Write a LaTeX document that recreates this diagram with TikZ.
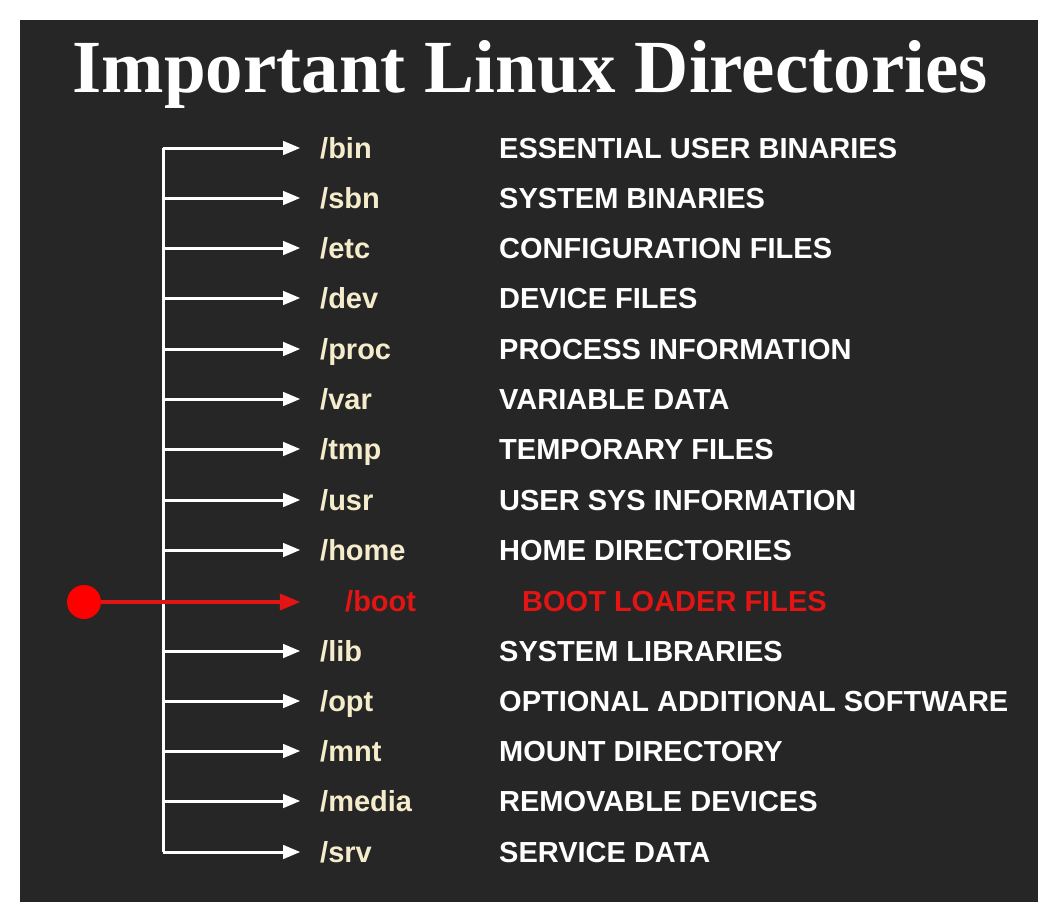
\documentclass[tikz,border=0pt]{standalone}
\usepackage{fontspec}
\setmainfont{Liberation Serif}
\newfontfamily\arialbold[BoldFont={* Bold}]{Liberation Sans}
\usetikzlibrary{arrows}
\definecolor{charcoal}{RGB}{38, 38, 38}
\definecolor{cream}{RGB}{245, 236, 204}
\definecolor{bootred}{RGB}{226, 20, 20}
\definecolor{dotred}{RGB}{255, 0, 0}

\tikzset{
    dirname/.style  = {anchor=west, inner xsep=20pt, inner ysep=0pt, text height=20.8pt, text depth=0pt,
                       text=cream, font=\arialbold\bfseries\fontsize{29}{29}\selectfont},
    dirinfo/.style  = {anchor=west, inner sep=0pt, text height=20.8pt, text depth=0pt,
                       text=white, font=\arialbold\bfseries\fontsize{29}{29}\selectfont},
    branch/.style   = {white, line width=3pt, -triangle 45},
}

\begin{document}
\begin{tikzpicture}[x=1pt, y=-1pt]
            \useasboundingbox                                            (0, 0) rectangle (1058, 921);
            \fill[white]                                                 (0, 0) rectangle (1058, 921);
            \fill[charcoal]                                              (20, 20) rectangle (1038, 902);
            \node[text=white, font=\bfseries\fontsize{75}{75}\selectfont, anchor=base] (title) at (530, 92) {Important Linux Directories};

            \node[dirname] (bin)   at (300, 148) {/bin};    \node[dirinfo] at (499, 148) {ESSENTIAL USER BINARIES};
            \node[dirname] (sbn)   at (300, 198) {/sbn};    \node[dirinfo] at (499, 198) {SYSTEM BINARIES};
            \node[dirname] (etc)   at (300, 248) {/etc};    \node[dirinfo] at (499, 248) {CONFIGURATION FILES};
            \node[dirname] (dev)   at (300, 298) {/dev};    \node[dirinfo] at (499, 298) {DEVICE FILES};
            \node[dirname] (proc)  at (300, 349) {/proc};   \node[dirinfo] at (499, 349) {PROCESS INFORMATION};
            \node[dirname] (var)   at (300, 399) {/var};    \node[dirinfo] at (499, 399) {VARIABLE DATA};
            \node[dirname] (tmp)   at (300, 449) {/tmp};    \node[dirinfo] at (499, 449) {TEMPORARY FILES};
            \node[dirname] (usr)   at (300, 500) {/usr};    \node[dirinfo] at (499, 500) {USER SYS INFORMATION};
            \node[dirname] (home)  at (300, 550) {/home};   \node[dirinfo] at (499, 550) {HOME DIRECTORIES};
            \node[dirname] (lib)   at (300, 651) {/lib};    \node[dirinfo] at (499, 651) {SYSTEM LIBRARIES};
            \node[dirname] (opt)   at (300, 701) {/opt};    \node[dirinfo] at (499, 701) {OPTIONAL ADDITIONAL SOFTWARE};
            \node[dirname] (mnt)   at (300, 751) {/mnt};    \node[dirinfo] at (499, 751) {MOUNT DIRECTORY};
            \node[dirname] (media) at (300, 801) {/media};  \node[dirinfo] at (499, 801) {REMOVABLE DEVICES};
            \node[dirname] (srv)   at (300, 852) {/srv};    \node[dirinfo] at (499, 852) {SERVICE DATA};

            % the red one sits a bit to the right
            \node[dirname, inner xsep=0pt, text=bootred] (boot) at (345, 601) {/boot};
            \node[dirinfo, text=bootred] at (522, 601) {BOOT LOADER FILES};

            \coordinate (top)     at (163, 148);
            \coordinate (bootend) at (300, 602);
            \draw[white, line width=3pt] (top) -- (top |- srv.west);
            \foreach \d in {bin, sbn, etc, dev, proc, var, tmp, usr, home, lib, opt, mnt, media, srv}
                \draw[branch] (top |- \d.west) -- (\d.west);

            \node[circle, fill=dotred, inner sep=0pt, minimum size=34pt] (dot) at (84, 602) {};
            \draw[bootred, line width=3.8pt, -triangle 45] (dot) -- (bootend);
\end{tikzpicture}
\end{document}
